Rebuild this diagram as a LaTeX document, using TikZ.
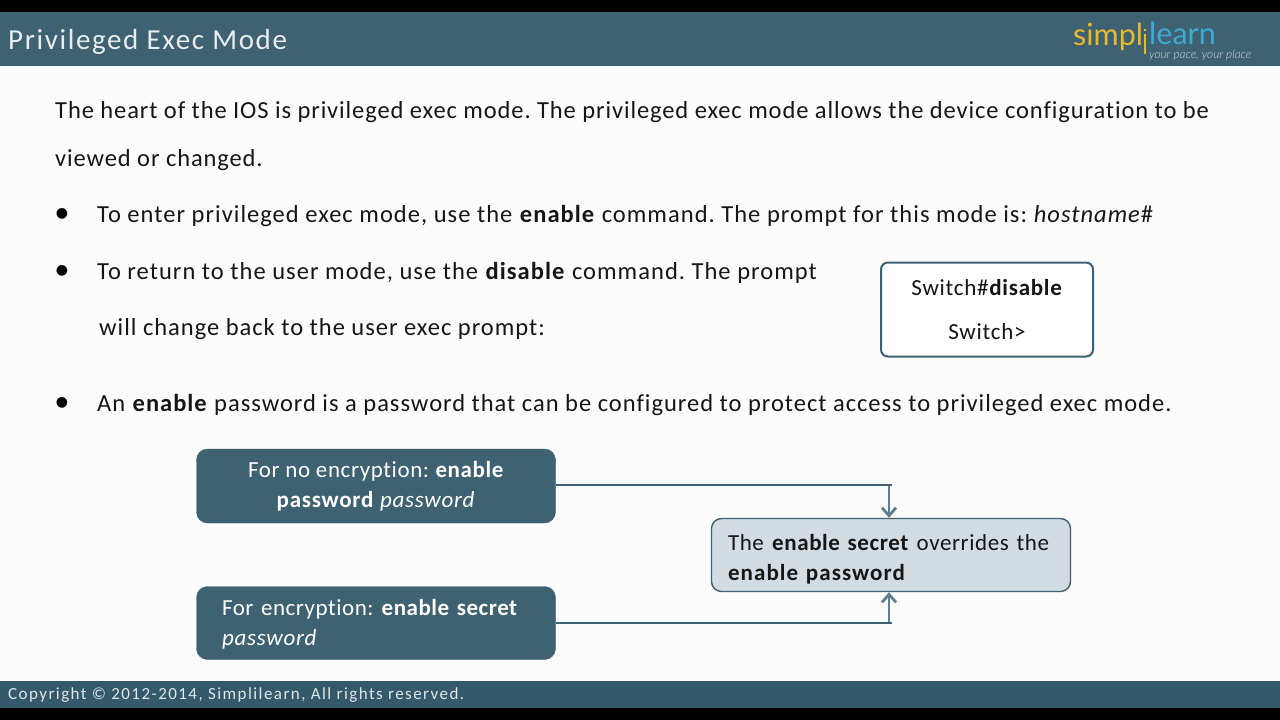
\documentclass[tikz,border=0pt]{standalone}
\usepackage{fontspec}
\setmainfont{Carlito}[LetterSpace=3.2,Ligatures=NoCommon]
\newfontfamily\lsp{Carlito}[LetterSpace=3.65,Ligatures=NoCommon]
\newfontfamily\lsq{Carlito}[LetterSpace=4.0,Ligatures=NoCommon]
\newfontfamily\lsr{Carlito}[LetterSpace=4.2,Ligatures=NoCommon]
\newfontfamily\lsn{Carlito}[LetterSpace=2.6,Ligatures=NoCommon]
\newfontfamily\lsm{Carlito}[LetterSpace=2.3,Ligatures=NoCommon]
\newfontfamily\lsw{Carlito}[LetterSpace=4.7,Ligatures=NoCommon]
\newfontfamily\footfont{Carlito}[LetterSpace=8.5,Ligatures=NoCommon]
\newfontfamily\titlefont{Carlito}[LetterSpace=5.6,Ligatures=NoCommon]
\newfontfamily\logofont{Lato}
\newfontfamily\logothin{Lato Light}
\newfontfamily\bulletfont{DejaVu Sans}
\definecolor{headbar}{HTML}{3F6272}
\definecolor{footbar}{HTML}{33596B}
\definecolor{boxdark}{HTML}{3F6272}
\definecolor{boxlight}{HTML}{D3DCE3}
\definecolor{linecol}{HTML}{3F6272}
\definecolor{arrowcol}{HTML}{5F7F8D}
\definecolor{bodytext}{HTML}{161616}
\definecolor{logoyellow}{HTML}{E8B82E}
\definecolor{logoblue}{HTML}{3FA9D6}
\usetikzlibrary{arrows.meta}
\tikzset{
  txt/.style={anchor=base west,inner sep=0pt,text=bodytext,font=\fontsize{24.5}{24.5}\selectfont},
  bul/.style={anchor=center,inner sep=0pt,text=black,font=\bulletfont\fontsize{14}{14}\selectfont},
  darkbox/.style={draw=boxdark,fill=boxdark,rounded corners=11pt,minimum width=359pt,inner sep=0pt,text=white,font=\fontsize{23}{29.5}\selectfont},
  lightbox/.style={draw=linecol,line width=1.4pt,fill=boxlight,rounded corners=10pt,minimum width=359pt,minimum height=73pt,inner sep=0pt,text=bodytext,font=\fontsize{23}{29.5}\selectfont},
  cmdbox/.style={draw=linecol,line width=2pt,fill=white,rounded corners=7pt,minimum width=212pt,minimum height=94pt,inner sep=0pt,text=bodytext,font=\fontsize{23}{43.5}\selectfont},
  conn/.style={draw=linecol,line width=2.4pt},
  arr/.style={draw=arrowcol,line width=2.6pt,-{Straight Barb[length=8pt,width=14pt,line width=2.8pt]}},
}
\begin{document}
\frenchspacing
\begin{tikzpicture}[x=1pt,y=-1pt]
\useasboundingbox (0,0) rectangle (1280,720);
\fill[white!99!black] (0,0) rectangle (1280,720);
\fill[black] (0,0) rectangle (1280,12);
\fill[black] (0,708) rectangle (1280,720);
\fill[headbar] (0,12) rectangle (1280,66);
\fill[footbar] (0,681) rectangle (1280,708);
\node[anchor=base west,inner sep=0pt,text=white!88!headbar,font=\titlefont\fontsize{29}{29}\selectfont] (title) at (8,49) {Privileged Exec Mode};
% logo
\node[anchor=base west,inner sep=0pt,text=logoyellow,font=\logofont\fontsize{30.5}{30.5}\selectfont] (logoa) at (1073,45) {simpl};
\fill[logoyellow] (1143.5,33.5) rectangle (1146,54);
\fill[logoyellow] (1143.5,28.5) rectangle (1146,31);
\node[anchor=base west,inner sep=0pt,text=logoblue,font=\logofont\fontsize{30.5}{30.5}\selectfont] (logob) at (1149,44) {learn};
\node[anchor=base west,inner sep=0pt,text=white!75!headbar,font=\logothin\itshape\fontsize{11.8}{11.8}\selectfont] (logoc) at (1149,58) {your pace, your place};
% body
\node[txt] (p1) at (55,118.5) {\lsp The heart of the IOS is privileged exec mode. The privileged exec mode allows the device configuration to be};
\node[txt] (p2) at (55,166.5) {\lsp viewed or changed.};
\node[bul] (b1) at (62,214) {●};
\node[txt] (t1) at (97,222) {\lsr To enter privileged exec mode, use the \textbf{enable} command. The prompt for this mode is: \textit{hostname}\#};
\node[bul] (b2) at (62,271) {●};
\node[txt] (t2) at (97,279) {\lsr To return to the user mode, use the \textbf{disable} command. The prompt};
\node[txt] (t3) at (99,335) {\lsq will change back to the user exec prompt:};
\node[bul] (b3) at (62,403) {●};
\node[txt] (t4) at (97,411) {\lsq An \textbf{enable} password is a password that can be configured to protect access to privileged exec mode.};
% cmd box
\node[cmdbox,align=center] (cmd) at (987,309.5) {Switch\#\textbf{disable}\\Switch>};
% diagram
\node[darkbox,minimum height=74pt,align=center] (noenc) at (376,486) {\rule{0pt}{17pt}{\lsn For no encryption: \textbf{enable}}\\\textbf{password} \textit{password}};
\node[darkbox,minimum height=73pt,text width=308pt,align=left] (enc) at (376,623) {\rule{0pt}{19pt}{\lsm For encryption: \textbf{enable secret}}\\\textit{password}};
\node[lightbox,text width=326pt,align=left] (over) at (891,555) {\rule{0pt}{25pt}{\lsn The \textbf{enable secret} overrides the}\\{\lsw\textbf{enable password}}};
\coordinate (j1) at (889,485);
\coordinate (j2) at (889,623);
\coordinate (e1) at (892,485);
\coordinate (e2) at (892,623);
\draw[arr] (j1) -- (j1 |- over.north);
\draw[arr] (j2) -- (j2 |- over.south);
\draw[conn] (noenc.east |- j1) -- (e1);
\draw[conn] (enc.east |- j2) -- (e2);
% footer
\node[anchor=base west,inner sep=0pt,text=white!85!footbar,font=\footfont\fontsize{17}{17}\selectfont] (foot) at (8,699) {Copyright © 2012-2014, Simplilearn, All rights reserved.};
\end{tikzpicture}
\end{document}
